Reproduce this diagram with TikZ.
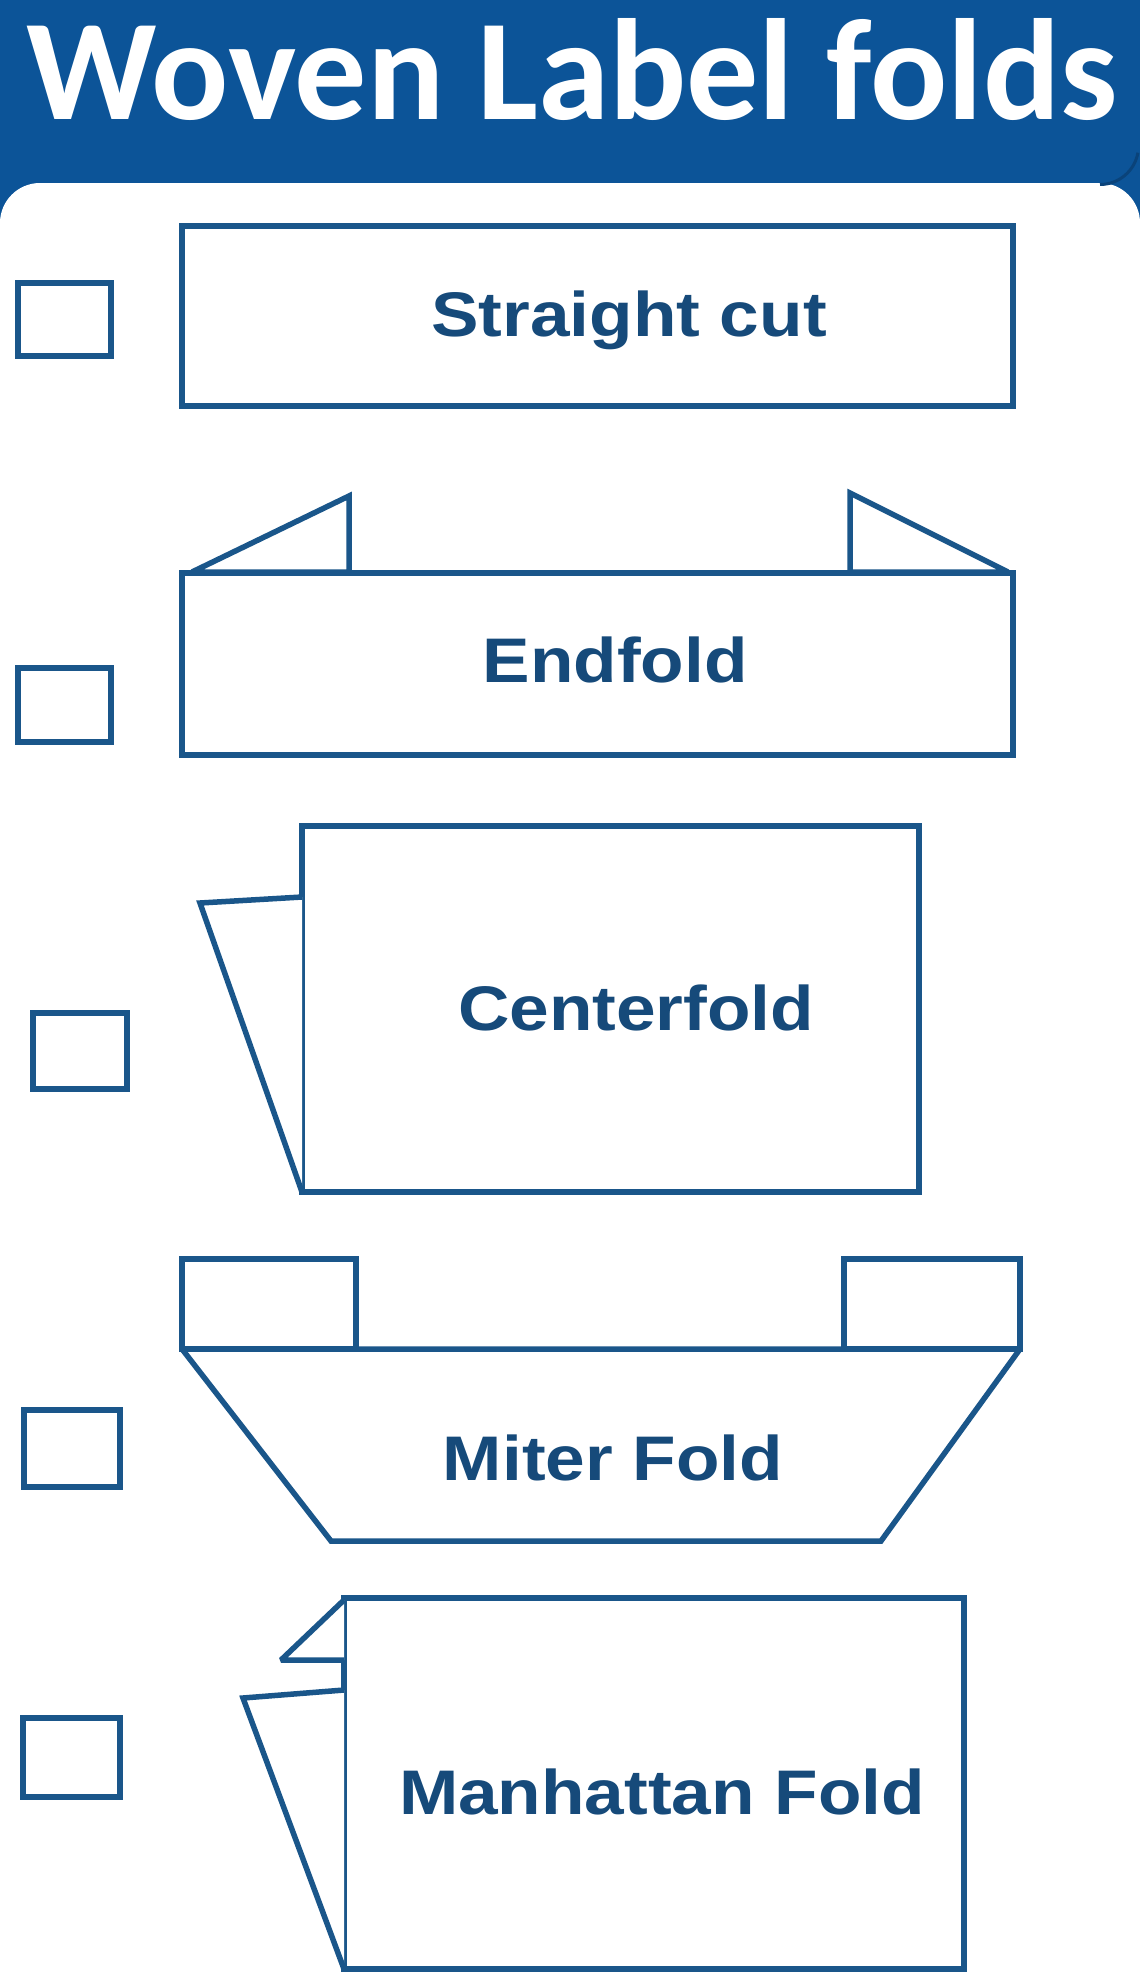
\documentclass[tikz,border=0pt]{standalone}
\usepackage{fontspec}
\setmainfont{Liberation Sans}
\newfontfamily\titlefont{Carlito}
\definecolor{hdrblue}{RGB}{12,84,152}
\definecolor{linblue}{RGB}{26,86,138}
\definecolor{txtblue}{RGB}{22,74,122}
\tikzset{
  fold/.style={draw=linblue, line width=5.5pt, line join=miter, miter limit=2, fill=white},
  chk/.style={draw=linblue, line width=6pt, fill=white},
  lbl/.style={text=txtblue, font=\fontsize{63}{70}\selectfont\bfseries, xscale=1.13, anchor=base, inner sep=0pt}
}
\begin{document}
\begin{tikzpicture}[x=1pt,y=-1pt]
\useasboundingbox (0,0) rectangle (1140,1983);
% header
\fill[hdrblue] (0,0) rectangle (1140,240);
\fill[white, rounded corners=40pt] (0,2100) -- (0,183) -- (1140,183) -- (1140,2100);
\draw[hdrblue!80!black, line width=3pt] (1100,184.5) arc[start angle=-90, end angle=-10, radius=38.5pt];
\node[text=white, font=\titlefont\fontsize{144}{150}\selectfont\bfseries, xscale=1.0, anchor=base, inner sep=0pt] (title) at (572,120) {Woven Label folds};

% Straight cut
\draw[chk] (18,283) rectangle (111,356);
\draw[fold] (182,226) rectangle (1013,406);
\node[lbl] (straight) at (629,336) {Straight cut};

% Endfold
\draw[fold] (192,572) -- (349,496) -- (349,572) -- cycle;
\draw[fold] (850,493) -- (1008,572) -- (850,572) -- cycle;
\draw[chk] (18,668) rectangle (111,742);
\draw[fold] (182,573) rectangle (1013,755);
\node[lbl] (endfold) at (615,682) {Endfold};

% Centerfold
\draw[chk] (33,1013) rectangle (127,1089);
\draw[fold] (302,826) rectangle (919,1192);
\draw[fold] (302,897) -- (200,903) -- (302,1192);
\node[lbl] (center) at (636,1030) {Centerfold};

% Miter fold
\draw[fold] (182,1259) rectangle (356,1349);
\draw[fold] (844,1259) rectangle (1020,1349);
\draw[fold] (182,1349) -- (1020,1349) -- (881,1541) -- (331,1541) -- cycle;
\draw[chk] (24,1410) rectangle (120,1487);
\node[lbl] (miter) at (613,1480) {Miter Fold};

% Manhattan fold
\draw[chk] (23,1718) rectangle (120,1797);
\draw[fold] (344,1598) rectangle (964,1969);
\draw[fold] (344,1600) -- (281,1660) -- (344,1660);
\draw[fold] (344,1690) -- (243,1698) -- (344,1969);
\node[lbl] (manhattan) at (662,1814) {Manhattan Fold};
\end{tikzpicture}
\end{document}
